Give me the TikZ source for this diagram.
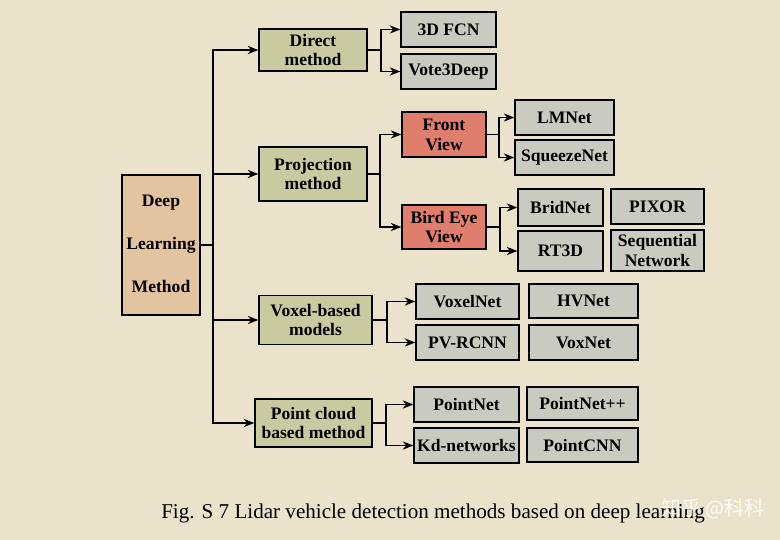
\documentclass[tikz,border=0pt]{standalone}
\usepackage{fontspec}
\setmainfont{Liberation Serif}
\newfontfamily\cjk{Noto Sans CJK SC}
\usetikzlibrary{arrows.meta}
\definecolor{bgc}{RGB}{234,226,203}
\definecolor{rootc}{RGB}{226,196,160}
\definecolor{midc}{RGB}{202,202,160}
\definecolor{redc}{RGB}{224,126,110}
\definecolor{leafc}{RGB}{202,203,192}
\newcommand\ux{0.03cm}
\tikzset{every path/.style={line width=1.2pt},
  bx/.style={draw,fill=leafc,align=center,font=\bfseries\fontsize{15}{17}\selectfont,inner sep=0pt},
  arr/.style={-{Stealth[length=9pt,width=7pt]}}}
\begin{document}
\begin{tikzpicture}[x=\ux,y=-\ux]
    \fill[bgc] (0,0) rectangle (780,540);
    \node[bx,fill=rootc,minimum width=78*\ux,minimum height=140*\ux] (root) at (161,245) {};
    \node[font=\bfseries\fontsize{15}{17}\selectfont] at (161,203) {Deep};
    \node[font=\bfseries\fontsize{15}{17}\selectfont] at (161,245) {Learning};
    \node[font=\bfseries\fontsize{15}{17}\selectfont] at (161,286) {Method};
    \coordinate (t) at (213,245);
    % level one
    \node[bx,fill=midc,minimum width=108*\ux,minimum height=42*\ux] (dir) at (313,50) {Direct\\method};
    \node[bx,fill=midc,minimum width=108*\ux,minimum height=54*\ux] (proj) at (313,174) {Projection\\method};
    \node[bx,fill=midc,minimum width=113*\ux,minimum height=49*\ux] (vox) at (315.5,320) {Voxel-based\\models};
    \node[bx,fill=midc,minimum width=117*\ux,minimum height=48*\ux] (pc) at (313.5,423) {Point cloud\\based method};
    \draw (root.east |- t) -- (t);
    \draw[arr] (t) |- (dir);
    \draw[arr] (t) |- (proj);
    \draw[arr] (t) |- (vox);
    \draw[arr] (t) |- (pc);
    % direct
    \node[bx,minimum width=95*\ux,minimum height=35*\ux] (fcn) at (448.5,29.5) {3D FCN};
    \node[bx,minimum width=95*\ux,minimum height=35*\ux] (vote) at (448.5,71.5) {Vote3Deep};
    \coordinate (b1) at (381,50);
    \draw (dir) -- (b1);
    \draw[arr] (b1) |- (fcn);
    \draw[arr] (b1) |- (vote);
    % projection
    \node[bx,fill=redc,minimum width=84*\ux,minimum height=45*\ux] (front) at (444,134.5) {Front\\View};
    \node[bx,fill=redc,minimum width=84*\ux,minimum height=44*\ux] (bird) at (444,227) {Bird Eye\\View};
    \coordinate (b2) at (380,174);
    \draw (proj) -- (b2);
    \draw[arr] (b2) |- (front);
    \draw[arr] (b2) |- (bird);
    \node[bx,minimum width=99*\ux,minimum height=35*\ux] (lm) at (564.5,117.5) {LMNet};
    \node[bx,minimum width=99*\ux,minimum height=35*\ux] (sq) at (564.5,157.5) {SqueezeNet};
    \coordinate (b3) at (499,134.5);
    \draw (front) -- (b3);
    \draw[arr] (b3) |- (lm);
    \draw[arr] (b3) |- (sq);
    \node[bx,minimum width=85*\ux,minimum height=37*\ux] (brid) at (560.5,207.5) {BridNet};
    \node[bx,minimum width=85*\ux,minimum height=40*\ux] (rt) at (560.5,251) {RT3D};
    \node[bx,minimum width=93*\ux,minimum height=35*\ux] (pixor) at (657.5,206.5) {PIXOR};
    \node[bx,minimum width=93*\ux,minimum height=41*\ux] (seq) at (657.5,250.5) {Sequential\\Network};
    \coordinate (b4) at (500,227);
    \draw (bird) -- (b4);
    \draw[arr] (b4) |- (brid);
    \draw[arr] (b4) |- (rt);
    % voxel
    \node[bx,minimum width=103*\ux,minimum height=35*\ux] (vn) at (467.5,301.5) {VoxelNet};
    \node[bx,minimum width=103*\ux,minimum height=35*\ux] (pv) at (467.5,342.5) {PV-RCNN};
    \node[bx,minimum width=109*\ux,minimum height=34*\ux] (hv) at (583.5,301) {HVNet};
    \node[bx,minimum width=109*\ux,minimum height=35*\ux] (vx) at (583.5,342.5) {VoxNet};
    \coordinate (b5) at (387,320);
    \draw (vox) -- (b5);
    \draw[arr] (b5) |- (vn);
    \draw[arr] (b5) |- (pv);
    % point cloud
    \node[bx,minimum width=105*\ux,minimum height=35*\ux] (pn) at (466.5,404.5) {PointNet};
    \node[bx,minimum width=105*\ux,minimum height=35*\ux] (kd) at (466.5,445.5) {Kd-networks};
    \node[bx,minimum width=111*\ux,minimum height=33*\ux] (pnpp) at (582.5,403.5) {PointNet++};
    \node[bx,minimum width=111*\ux,minimum height=34*\ux] (pcnn) at (582.5,445) {PointCNN};
    \coordinate (b6) at (386,423);
    \draw (pc) -- (b6);
    \draw[arr] (b6) |- (pn);
    \draw[arr] (b6) |- (kd);
    % caption
    \node[font=\fontsize{18}{20}\selectfont] (cap) at (433,513) {Fig. S 7 Lidar vehicle detection methods based on deep learning};
    \node[font=\cjk\fontsize{17}{18}\selectfont,text=white,opacity=0.85] (wm) at (713,509) {知乎 @科科};
\end{tikzpicture}
\end{document}
